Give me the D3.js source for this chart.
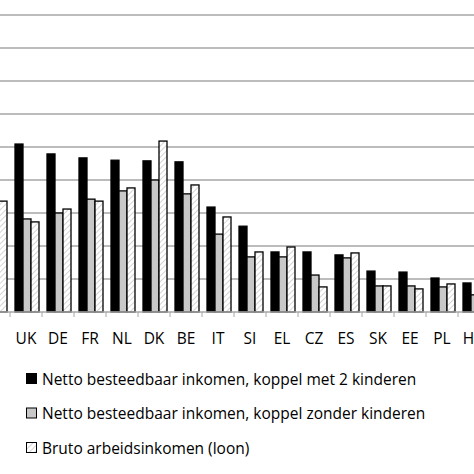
<!DOCTYPE html>
<html><head><meta charset="utf-8">
<script src="https://cdn.jsdelivr.net/npm/d3@7"></script>
<style>body{margin:0;background:#fff}svg{display:block}text{font-family:"Open Sans",Lato,sans-serif}</style>
</head><body>
<svg id="c" width="474" height="474"></svg>
<script>
const categories = ["", "UK","DE","FR","NL","DK","BE","IT","SI","EL","CZ","ES","SK","EE","PL","HU"];
const seriesNames = ["Netto besteedbaar inkomen, koppel met 2 kinderen","Netto besteedbaar inkomen, koppel zonder kinderen","Bruto arbeidsinkomen (loon)"];
const withKids   = [null,5.09,4.79,4.67,4.6,4.58,4.55,3.18,2.6,1.82,1.82,1.73,1.24,1.21,1.03,0.88];
const noKids     = [null,2.82,3.0,3.42,3.67,4.0,3.58,2.36,1.67,1.67,1.12,1.64,0.79,0.79,0.76,0.52];
const grossWage  = [3.36,2.73,3.12,3.36,3.76,5.18,3.85,2.88,1.82,1.97,0.76,1.79,0.79,0.7,0.85,0.6];
const yTicks = [0,1,2,3,4,5,6,7,8,9];

const svg = d3.select("#c");
const defs = svg.append("defs");
const pat = defs.append("pattern").attr("id","hatch").attr("patternUnits","userSpaceOnUse")
  .attr("width",4).attr("height",4).attr("patternTransform","rotate(45)");
pat.append("rect").attr("width",4).attr("height",4).attr("fill","#fff");
pat.append("line").attr("x1",0).attr("y1",0).attr("x2",0).attr("y2",4).attr("stroke","#aaa").attr("stroke-width",1);

const y = d3.scaleLinear().domain([0,9]).range([312,15]);
const x = d3.scaleBand().domain(categories.map((c,i)=>i)).range([-22,490]);
const xs = d3.scaleBand().domain([0,1,2]).range([5,29]);

svg.append("g").selectAll("line").data(yTicks.slice(1)).join("line")
  .attr("x1",0).attr("x2",474).attr("y1",d=>y(d)).attr("y2",d=>y(d))
  .attr("stroke","#a6a6a6").attr("stroke-width",1.5);

const fills = ["#000","#c8c8c8","url(#hatch)"];
const data = [withKids,noKids,grossWage];
data.forEach((arr,s)=>{
  svg.append("g").selectAll("rect").data(arr.map((v,i)=>({v,i})).filter(d=>d.v!=null)).join("rect")
    .attr("x",d=>x(d.i)+xs(s)).attr("width",xs.bandwidth())
    .attr("y",d=>y(d.v)).attr("height",d=>y(0)-y(d.v))
    .attr("fill",fills[s]).attr("stroke","#000").attr("stroke-width",1.3);
});

svg.append("line").attr("x1",0).attr("x2",474).attr("y1",y(0)).attr("y2",y(0)).attr("stroke","#a6a6a6").attr("stroke-width",1.5);
svg.append("g").selectAll("line").data(categories.map((c,i)=>i)).join("line")
  .attr("x1",d=>x(d)).attr("x2",d=>x(d)).attr("y1",y(0)).attr("y2",y(0)+5).attr("stroke","#a6a6a6");
svg.append("g").selectAll("text").data(categories.map((c,i)=>({c,i}))).join("text")
  .attr("x",d=>x(d.i)+x.bandwidth()/2).attr("y",344).attr("text-anchor","middle")
  .attr("font-size",15.5).attr("fill","#000").text(d=>d.c);

const lg = svg.append("g");
seriesNames.forEach((n,s)=>{
  const cy = 379 + s*34.5;
  lg.append("rect").attr("x",26.5).attr("y",cy-5.5).attr("width",10).attr("height",10)
    .attr("fill",fills[s]).attr("stroke","#000").attr("stroke-width",1);
  lg.append("text").attr("x",42).attr("y",cy+5.5).attr("font-size",15.5).attr("fill","#000").text(n);
});
</script></body></html>
